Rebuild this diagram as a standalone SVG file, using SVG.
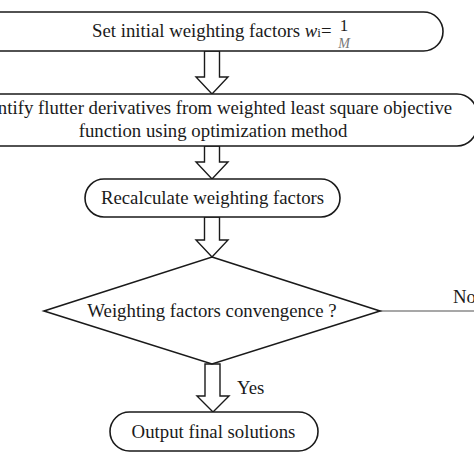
<svg xmlns="http://www.w3.org/2000/svg" width="474" height="474" viewBox="0 0 474 474">
<style>
.box{fill:#fff;stroke:#1a1a1a;stroke-width:1.6}
.arr{fill:#fff;stroke:#1a1a1a;stroke-width:1.4;stroke-linejoin:miter}
.t{font-family:"Liberation Serif","Times New Roman",serif;font-size:18.8px;fill:#1a1a1a}
.c{text-anchor:middle}
</style>
<rect width="474" height="474" fill="#fff"/>
<g id="connectors">
<path class="arr" d="M204.5,51 V77 H196 L212,94 L228,77 H219.5 V51 Z"/>
<path class="arr" d="M204.5,146 V162 H196 L212,179 L228,162 H219.5 V146 Z"/>
<path class="arr" d="M204.5,217 V240 H196 L212,257 L228,240 H219.5 V217 Z"/>
<path class="arr" d="M205,364 V396 H197 L213,412 L229,396 H220 V364 Z"/>
<line x1="380" y1="311" x2="474" y2="311" stroke="#8a8a8a" stroke-width="1.6"/>
<text class="t" x="237" y="394">Yes</text>
<text class="t" x="453" y="303">No</text>
</g>
<g id="n1">
<rect class="box" x="-20" y="12" width="463" height="39" rx="19.5"/>
<text class="t" x="92" y="37">Set initial weighting factors <tspan style="font-style:italic">w</tspan><tspan style="font-size:13px">i</tspan>=</text>
<text class="t c"><tspan x="344" y="31" style="font-size:17px">1</tspan><tspan x="344" y="48" style="font-size:14px;font-style:italic;fill:#777">M</tspan></text>
</g>
<g id="n2">
<rect class="box" x="-50" y="94" width="527" height="52" rx="20"/>
<text class="t c" x="213" y="114">Identify flutter derivatives from weighted least square objective</text>
<text class="t c" x="213" y="137">function using optimization method</text>
</g>
<g id="n3">
<rect class="box" x="85" y="179" width="255" height="38" rx="19"/>
<text class="t c" x="212.5" y="204">Recalculate weighting factors</text>
</g>
<g id="n4">
<polygon class="box" points="212,257 380,311 212,364 44,311"/>
<text class="t c" x="212" y="317">Weighting factors convengence ?</text>
</g>
<g id="n5">
<rect class="box" x="110" y="412" width="208" height="39" rx="19.5"/>
<text class="t c" x="213.5" y="438">Output final solutions</text>
</g>
</svg>
